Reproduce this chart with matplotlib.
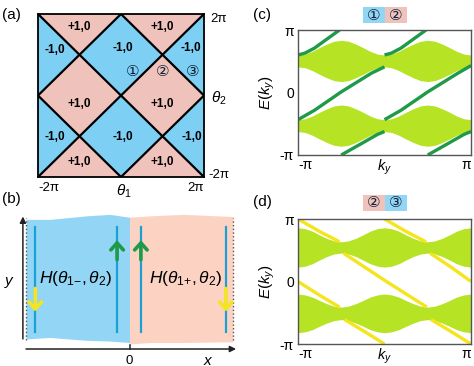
"""
Phase diagram, domain-wall schematic and edge-state spectra.
"""

import numpy as np
import matplotlib
matplotlib.use("Agg")
import matplotlib.pyplot as plt
from matplotlib.patches import Rectangle

plt.rcParams['font.family'] = ['Liberation Sans', 'DejaVu Sans']
plt.rcParams['mathtext.fontset'] = 'custom'
plt.rcParams['mathtext.it'] = 'Liberation Sans:italic'
plt.rcParams['mathtext.rm'] = 'Liberation Sans'

PI = np.pi

# ---------------- data ----------------
# (a) phase boundaries, endpoints in units of pi
a_lines = [((-2, 2), (2, -2)), ((-2, -2), (2, 2)), ((-2, 0), (0, 2)),
           ((0, 2), (2, 0)), ((2, 0), (0, -2)), ((0, -2), (-2, 0))]
a_labels = ['+1,0', '+1,0', '-1,0', '-1,0', '-1,0', '+1,0', '+1,0',
            '-1,0', '-1,0', '-1,0', '+1,0', '+1,0']
a_label_t1 = [-1.0, 1.0, -1.6, 0.05, 1.68, -1.0, 1.0, -1.6, 0.05, 1.7, -1.0, 1.0]
a_label_t2 = [1.68, 1.68, 1.12, 1.17, 1.17, -0.22, -0.22, -1.02, -1.02, -1.02, -1.63, -1.63]
a_marks = ['①', '②', '③']
a_mark_t1 = [0.29, 1.01, 1.73]
a_mark_t2 = [0.6, 0.6, 0.6]

# (b) schematic domain outlines
b_left_x = [-1.0, -0.77, -0.41, -0.19, 0.0]
b_left_top = [0.90, 0.90, 0.925, 0.935, 0.915]
b_left_bot = [0.07, 0.08, 0.06, 0.055, 0.045]
b_right_x = [0.0, 0.2, 0.52, 1.0]
b_right_top = [0.915, 0.925, 0.935, 0.92]
b_right_bot = [0.035, 0.045, 0.045, 0.05]
b_edge_x = [-0.91, -0.12, 0.11, 0.93]
b_up_x = [-0.12, 0.11]
b_down_x = [-0.91, 0.93]

# (c),(d) bulk bands, k_y and E in units of pi
ky = [-1 + i / 12 for i in range(25)]
c_up_top = [0.60, 0.615, 0.66, 0.72, 0.775, 0.82, 0.835, 0.82, 0.775, 0.72, 0.66, 0.615, 0.60,
            0.615, 0.66, 0.72, 0.775, 0.82, 0.835, 0.82, 0.775, 0.72, 0.66, 0.615, 0.60]
c_up_bot = [0.41, 0.395, 0.35, 0.29, 0.235, 0.19, 0.175, 0.19, 0.235, 0.29, 0.35, 0.395, 0.41,
            0.395, 0.35, 0.29, 0.235, 0.19, 0.175, 0.19, 0.235, 0.29, 0.35, 0.395, 0.41]
c_lo_top = [-0.435, -0.42, -0.375, -0.315, -0.26, -0.215, -0.20, -0.215, -0.26, -0.315, -0.375, -0.42, -0.435,
            -0.42, -0.375, -0.315, -0.26, -0.215, -0.20, -0.215, -0.26, -0.315, -0.375, -0.42, -0.435]
c_lo_bot = [-0.625, -0.64, -0.685, -0.745, -0.80, -0.845, -0.86, -0.845, -0.80, -0.745, -0.685, -0.64, -0.625,
            -0.64, -0.685, -0.745, -0.80, -0.845, -0.86, -0.845, -0.80, -0.745, -0.685, -0.64, -0.625]

d_up_top = [0.86, 0.845, 0.805, 0.745, 0.69, 0.65, 0.635, 0.65, 0.69, 0.745, 0.805, 0.845, 0.86,
            0.845, 0.805, 0.745, 0.69, 0.65, 0.635, 0.65, 0.69, 0.745, 0.805, 0.845, 0.86]
d_up_bot = [0.23, 0.245, 0.285, 0.345, 0.40, 0.44, 0.455, 0.44, 0.40, 0.345, 0.285, 0.245, 0.23,
            0.245, 0.285, 0.345, 0.40, 0.44, 0.455, 0.44, 0.40, 0.345, 0.285, 0.245, 0.23]
d_lo_top = [-0.20, -0.215, -0.25, -0.305, -0.355, -0.395, -0.41, -0.395, -0.355, -0.305, -0.25, -0.215, -0.20,
            -0.215, -0.25, -0.305, -0.355, -0.395, -0.41, -0.395, -0.355, -0.305, -0.25, -0.215, -0.20]
d_lo_bot = [-0.82, -0.805, -0.77, -0.715, -0.665, -0.625, -0.61, -0.625, -0.665, -0.715, -0.77, -0.805, -0.82,
            -0.805, -0.77, -0.715, -0.665, -0.625, -0.61, -0.625, -0.665, -0.715, -0.77, -0.805, -0.82]

# edge states: (k_y list, E list), units of pi
c_edges = [
    ([-1.0, -0.92, -0.81, -0.65, -0.52], [0.60, 0.63, 0.71, 0.87, 1.0]),
    ([0.0, 0.08, 0.19, 0.35, 0.48], [0.60, 0.63, 0.71, 0.87, 1.0]),
    ([-1.0, -0.81, -0.50, -0.15, 0.0], [-0.435, -0.285, 0.01, 0.31, 0.41]),
    ([0.0, 0.19, 0.50, 0.85, 1.0], [-0.435, -0.285, 0.01, 0.31, 0.43]),
    ([-0.50, -0.27, -0.08, 0.0], [-1.0, -0.82, -0.67, -0.625]),
    ([0.50, 0.73, 0.92, 1.0], [-1.0, -0.82, -0.67, -0.625]),
]
d_edges = [
    ([-1.0, -0.75, -0.52], [1.0, 0.80, 0.635]),
    ([-0.47, 0.0, 0.49], [0.45, 0.02, -0.41]),
    ([0.54, 0.78, 1.0], [-0.61, -0.81, -1.0]),
    ([0.0, 0.25, 0.48], [1.0, 0.80, 0.635]),
    ([0.53, 0.78, 1.0], [0.45, 0.22, 0.0]),
    ([-1.0, -0.75, -0.52], [0.0, -0.22, -0.41]),
    ([-0.46, -0.22, 0.0], [-0.61, -0.81, -1.0]),
]

# colours
BLUE_A, PINK_A = '#7dcff3', '#efc3bb'
BLUE_B, PINK_B = '#93d5f5', '#fcd3c3'
BAND = '#b7e325'
EDGE_C = '#1e9a48'
EDGE_D = '#f5e51e'
LINE_B = '#1a9fd6'

W, H = 474, 366
fig = plt.figure(figsize=(W / 100, H / 100), dpi=100)


def px_axes(x0, y0, x1, y1):
    return fig.add_axes([x0 / W, 1 - y1 / H, (x1 - x0) / W, (y1 - y0) / H])


def badge(x0, y0, items, w=22, h=16):
    for i, (txt, col) in enumerate(items):
        fig.add_artist(Rectangle(((x0 + i * w) / W, 1 - (y0 + h) / H), w / W, h / H,
                                 transform=fig.transFigure, color=col, lw=0))
        fig.text((x0 + i * w + w / 2) / W, 1 - (y0 + h / 2) / H, txt, ha='center',
                 va='center', fontsize=11, color='#10203a',
                 family=['DejaVu Sans'])


# ---------------- (a) ----------------
ax = px_axes(38, 14, 204, 177)
t = np.linspace(-2 * PI, 2 * PI, 401)
T1, T2 = np.meshgrid(t, t)
ax.contourf(T1, T2, np.cos(T2) - np.cos(T1), levels=[-3, 0, 3], colors=[BLUE_A, PINK_A])
for (p, q) in a_lines:
    ax.plot([p[0] * PI, q[0] * PI], [p[1] * PI, q[1] * PI], color='black', lw=1.6)
for s, x, y in zip(a_labels, a_label_t1, a_label_t2):
    ax.text(x * PI, y * PI, s, ha='center', va='center', fontsize=8.5, fontweight='bold')
for s, x, y in zip(a_marks, a_mark_t1, a_mark_t2):
    ax.text(x * PI, y * PI, s, ha='center', va='center', fontsize=11,
            color='#10203a', family=['DejaVu Sans'])
ax.set_xlim(-2 * PI, 2 * PI)
ax.set_ylim(-2 * PI, 2 * PI)
ax.set_xticks([])
ax.set_yticks([])
for sp in ax.spines.values():
    sp.set_linewidth(1.3)
ax.text(1.09, 0.97, '2π', transform=ax.transAxes, ha='center', va='center', fontsize=9.5)
ax.text(1.09, 0.48, r'$\theta_2$', transform=ax.transAxes, ha='center', va='center', fontsize=11)
ax.text(1.09, 0.01, '-2π', transform=ax.transAxes, ha='center', va='center', fontsize=9.5)
ax.text(0.0, -0.07, '-2π', transform=ax.transAxes, ha='left', va='center', fontsize=9.5)
ax.text(0.52, -0.09, r'$\theta_1$', transform=ax.transAxes, ha='center', va='center', fontsize=11)
ax.text(1.0, -0.07, '2π', transform=ax.transAxes, ha='right', va='center', fontsize=9.5)

# ---------------- (b) ----------------
bx = px_axes(26, 205, 233, 349)
bx.set_xlim(-1, 1)
bx.set_ylim(0, 1)
bx.axis('off')
bx.fill_between(b_left_x, b_left_bot, b_left_top, color=BLUE_B, lw=0)
bx.fill_between(b_right_x, b_right_bot, b_right_top, color=PINK_B, lw=0)
for x in [-1.0, 1.0]:
    bx.plot([x, x], [0.06, 0.91], ls=':', color='#555555', lw=1, clip_on=False)
for x in b_edge_x:
    bx.plot([x, x], [0.12, 0.85], color=LINE_B, lw=1.6)
for x in b_up_x:
    bx.annotate('', xy=(x, 0.755), xytext=(x, 0.62),
                arrowprops=dict(arrowstyle='->,head_length=0.5,head_width=0.45',
                                color=EDGE_C, lw=2.6, shrinkA=0, shrinkB=0))
for x in b_down_x:
    bx.annotate('', xy=(x, 0.26), xytext=(x, 0.42),
                arrowprops=dict(arrowstyle='->,head_length=0.5,head_width=0.45',
                                color=EDGE_D, lw=2.6, shrinkA=0, shrinkB=0))
bx.annotate('', xy=(-1.03, 0.92), xytext=(-1.03, 0.07), annotation_clip=False,
            arrowprops=dict(arrowstyle='-|>', color='#222222', lw=1.1,
                            mutation_scale=9, shrinkA=0, shrinkB=0))
bx.annotate('', xy=(1.03, 0.0), xytext=(-1.0, 0.0), annotation_clip=False,
            arrowprops=dict(arrowstyle='-|>', color='#222222', lw=1.1,
                            mutation_scale=9, shrinkA=0, shrinkB=0))
bx.plot([0.0, 0.0], [0.0, 0.03], color='#222222', lw=1.1, clip_on=False)
bx.text(0.0, -0.08, '0', ha='center', va='center', fontsize=9.5)
bx.text(0.76, -0.08, r'$x$', ha='center', va='center', fontsize=11)
bx.text(-1.16, 0.465, r'$y$', ha='center', va='center', fontsize=11)
bx.text(-0.52, 0.49, r'$H(\theta_{1\!-}\!,\theta_2)$', ha='center', va='center', fontsize=12.5)
bx.text(0.54, 0.49, r'$H(\theta_{1\!+}\!,\theta_2)$', ha='center', va='center', fontsize=12.5)


# ---------------- (c), (d) ----------------
def spectrum(rect, bands, edges, edge_color):
    ax = px_axes(*rect)
    k = np.array(ky) * PI
    for top, bot in bands:
        ax.fill_between(k, np.array(bot) * PI, np.array(top) * PI, color=BAND, lw=0, zorder=1)
    for kx, e in edges:
        ax.plot(np.array(kx) * PI, np.array(e) * PI, color=edge_color, lw=2.4,
                solid_capstyle='butt', zorder=2)
    ax.set_xlim(-PI, PI)
    ax.set_ylim(-PI, PI)
    ax.set_yticks([-PI, 0, PI], ['-π', '0', 'π'])
    ax.set_xticks([-PI, 0, PI], ['-π', r'$k_y$', 'π'])
    labs = ax.get_xticklabels()
    labs[0].set_ha('left')
    labs[2].set_ha('right')
    labs[1].set_fontsize(10.5)
    ax.tick_params(axis='y', length=0, labelsize=10, pad=3)
    ax.tick_params(axis='x', length=0, labelsize=10, pad=2)
    labs[1].set_fontsize(10.5)
    ax.set_ylabel(r'$E(k_y)$', fontsize=11, labelpad=2)
    for sp in ax.spines.values():
        sp.set_color('#555555')
        sp.set_linewidth(1.0)
    return ax


spectrum((298, 30, 471, 155), [(c_up_top, c_up_bot), (c_lo_top, c_lo_bot)], c_edges, EDGE_C)
spectrum((298, 219, 471, 344), [(d_up_top, d_up_bot), (d_lo_top, d_lo_bot)], d_edges, EDGE_D)

badge(363, 7, [('①', BLUE_B), ('②', PINK_A)])
badge(363, 195, [('②', PINK_A), ('③', BLUE_B)])

for lab, x, y in [('(a)', 2, 15), ('(b)', 2, 199), ('(c)', 253, 15), ('(d)', 253, 202)]:
    fig.text(x / W, 1 - y / H, lab, ha='left', va='center', fontsize=11)

fig.savefig('out.png', dpi=100)
